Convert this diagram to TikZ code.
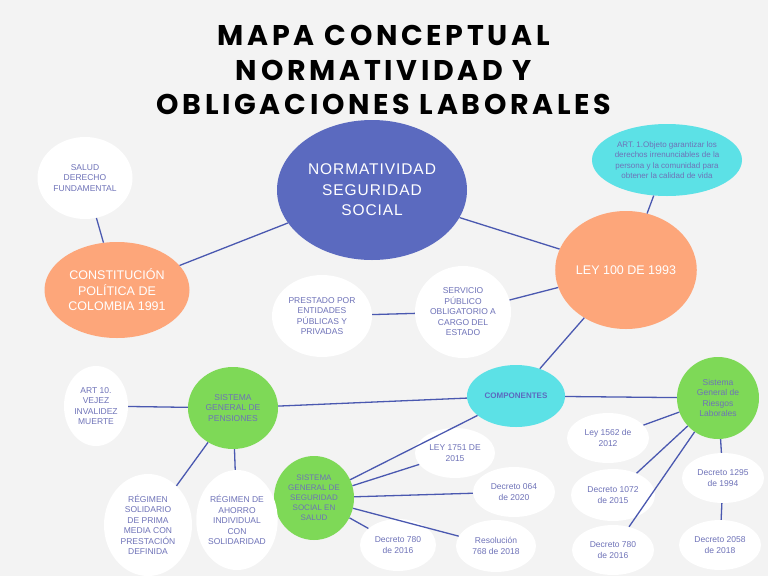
\documentclass[tikz,border=0pt]{standalone}
\usepackage{fontspec}
\setmainfont{Liberation Sans}
\newfontfamily\titlefont{Poppins}
\usetikzlibrary{shapes.geometric}
\definecolor{bg}{HTML}{F3F3F3}
\definecolor{nblue}{HTML}{5B6ABF}
\definecolor{norange}{HTML}{FDA67A}
\definecolor{ncyan}{HTML}{5CE1E6}
\definecolor{ngreen}{HTML}{7ED957}
\definecolor{ltxt}{HTML}{6E72B8}
\definecolor{lline}{HTML}{4A58B0}
\begin{document}
\begin{tikzpicture}[x=1pt,y=-1pt,
  bub/.style={ellipse,inner sep=0pt,align=center,text=ltxt,font=\fontsize{8.5}{10.5}\selectfont},
  wb/.style={bub,fill=white},
  ob/.style={bub,fill=norange,text=white,font=\fontsize{12.5}{15.5}\selectfont},
  gb/.style={bub,fill=ngreen,font=\fontsize{8.5}{10.5}\selectfont},
  con/.style={draw=lline,line width=1.3pt}]
\fill[bg] (0,0) rectangle (768,576);
\useasboundingbox (0,0) rectangle (768,576);
\node[font=\titlefont\bfseries\fontsize{28.5}{34.5}\selectfont,align=center] (title) at (384,70) {\addfontfeature{LetterSpace=13}MAPA CONCEPTUAL\\\addfontfeature{LetterSpace=13}NORMATIVIDAD Y\\\addfontfeature{LetterSpace=13}OBLIGACIONES LABORALES};
\node[bub,fill=nblue,text=white,minimum width=190,minimum height=140,font=\fontsize{15.5}{20.5}\selectfont] (norm) at (372,190) {\addfontfeature{LetterSpace=6}NORMATIVIDAD\\\addfontfeature{LetterSpace=6}SEGURIDAD\\\addfontfeature{LetterSpace=6}SOCIAL};
\node[wb,minimum width=95,minimum height=82] (salud) at (85,178) {SALUD\\DERECHO\\FUNDAMENTAL};
\node[ob,minimum width=145,minimum height=96] (const) at (117,290) {CONSTITUCIÓN\\POLÍTICA DE\\COLOMBIA 1991};
\node[ob,minimum width=128,minimum height=118] (ley) at (626,270) {LEY 100 DE 1993};
\node[bub,fill=ncyan,minimum width=150,minimum height=72,font=\fontsize{8}{10.5}\selectfont] (art1) at (667,160) {ART. 1.Objeto garantizar los\\derechos irrenunciables de la\\persona y la comunidad para\\obtener la calidad de vida};
\node[wb,minimum width=96,minimum height=92] (serv) at (463,312) {SERVICIO\\PÚBLICO\\OBLIGATORIO A\\CARGO DEL\\ESTADO};
\node[wb,minimum width=100,minimum height=82] (prest) at (322,316) {PRESTADO POR\\ENTIDADES\\PÚBLICAS Y\\PRIVADAS};
\node[bub,fill=ncyan,minimum width=98,minimum height=62,font=\bfseries\fontsize{8}{10}\selectfont,text=nblue] (comp) at (516,396) {COMPONENTES};
\node[gb,minimum width=90,minimum height=82] (sgp) at (233,408) {SISTEMA\\GENERAL DE\\PENSIONES};
\node[wb,minimum width=64,minimum height=80] (art10) at (96,406) {ART 10.\\VEJEZ\\INVALIDEZ\\MUERTE};
\node[gb,minimum width=82,minimum height=82] (rl) at (718,398) {Sistema\\General de\\Riesgos\\Laborales};
\node[wb,minimum width=82,minimum height=50] (l1562) at (608,438) {Ley 1562 de\\2012};
\node[wb,minimum width=82,minimum height=50] (d1295) at (723,478) {Decreto 1295\\de 1994};
\node[wb,minimum width=84,minimum height=52] (d1072) at (613,495) {Decreto 1072\\de 2015};
\node[wb,minimum width=82,minimum height=50] (d2058) at (720,545) {Decreto 2058\\de 2018};
\node[wb,minimum width=82,minimum height=50] (d780r) at (613,550) {Decreto 780\\de 2016};
\node[gb,minimum width=80,minimum height=84,font=\fontsize{8}{10}\selectfont] (sgss) at (314,498) {SISTEMA\\GENERAL DE\\SEGURIDAD\\SOCIAL EN\\SALUD};
\node[wb,minimum width=80,minimum height=50] (l1751) at (455,453) {LEY 1751 DE\\2015};
\node[wb,minimum width=82,minimum height=50] (d064) at (514,492) {Decreto 064\\de 2020};
\node[wb,minimum width=80,minimum height=52] (res) at (496,546) {Resolución\\768 de 2018};
\node[wb,minimum width=76,minimum height=52] (d780l) at (398,545) {Decreto 780\\de 2016};
\node[wb,minimum width=88,minimum height=102] (rsol) at (148,525) {RÉGIMEN\\SOLIDARIO\\DE PRIMA\\MEDIA CON\\PRESTACIÓN\\DEFINIDA};
\node[wb,minimum width=78,minimum height=100] (rah) at (237,520) {RÉGIMEN DE\\AHORRO\\INDIVIDUAL\\CON\\SOLIDARIDAD};
\draw[con] (salud) -- (const);
\draw[con] (const) -- (norm);
\draw[con] (norm) -- (ley);
\draw[con] (ley) -- (art1);
\draw[con] (ley) -- (serv);
\draw[con] (serv) -- (prest);
\draw[con] (ley) -- (comp);
\draw[con] (comp) -- (sgp);
\draw[con] (comp) -- (rl);
\draw[con] (comp) -- (sgss);
\draw[con] (sgp) -- (art10);
\draw[con] (sgp) -- (rsol);
\draw[con] (sgp) -- (rah);
\draw[con] (sgss) -- (l1751);
\draw[con] (sgss) -- (d064);
\draw[con] (sgss) -- (res);
\draw[con] (sgss) -- (d780l);
\draw[con] (rl) -- (l1562);
\draw[con] (rl) -- (d1072);
\draw[con] (rl) -- (d780r);
\draw[con] (rl) -- (d1295);
\draw[con] (d1295) -- (d2058);
\end{tikzpicture}
\end{document}
